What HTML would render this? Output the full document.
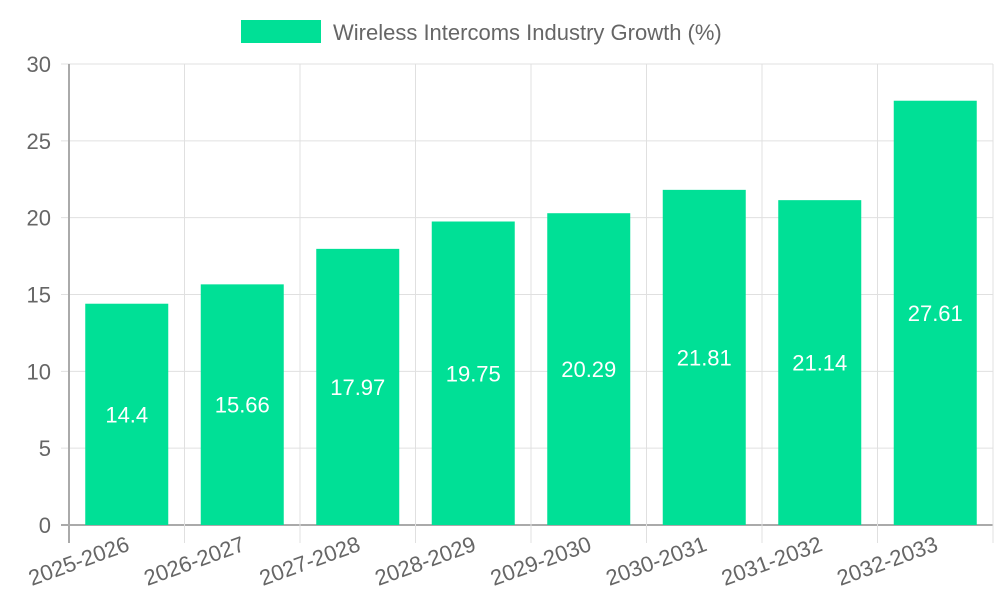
<!DOCTYPE html>
<html><head><meta charset="utf-8"><style>
body{margin:0;background:#fff;}
svg{display:block;font-family:"Liberation Sans",sans-serif;}
</style></head><body>
<svg id="chart" width="1000" height="600">
<g id="legend">
<rect x="241" y="20" width="80" height="23" fill="#00e096"/>
<text x="333" y="40" font-size="22" fill="#666">Wireless Intercoms Industry Growth (%)</text>
</g>
<g id="grid"></g><g id="bars"></g><g id="axes"></g>
</svg>
<script>
const categories=["2025-2026","2026-2027","2027-2028","2028-2029","2029-2030","2030-2031","2031-2032","2032-2033"];
const values=[14.4,15.66,17.97,19.75,20.29,21.81,21.14,27.61];
const yTicks=[0,5,10,15,20,25,30];
const NS="http://www.w3.org/2000/svg";
const x0=69,x1=993,y0=525,y1=64,yMax=30;
const bw=(x1-x0)/categories.length;
const y=v=>y0-(v/yMax)*(y0-y1);
const xc=i=>x0+bw*(i+0.5);
function mk(p,t,a){const e=document.createElementNS(NS,t);for(const k in a)e.setAttribute(k,a[k]);p.appendChild(e);return e;}
const grid=document.getElementById('grid'),bars=document.getElementById('bars'),axes=document.getElementById('axes');
yTicks.forEach(t=>{
  const l=mk(grid,'line',{x1:x0-8,x2:x1,y1:y(t),y2:y(t),stroke:t===0?'#aaa':'#e0e0e0','stroke-width':t===0?2:1});
  
  
  const tx=mk(axes,'text',{x:x0-18,y:y(t)+8,'text-anchor':'end','font-size':22,fill:'#666'});
  tx.textContent=t;
  
  
});
for(let i=0;i<=categories.length;i++){
  const xx=x0+bw*i;
  const l=mk(grid,'line',{x1:xx,x2:xx,y1:y1,y2:y0+18,stroke:i===0?'#aaa':'#e0e0e0','stroke-width':i===0?2:1});
  
  
}
categories.forEach((c,i)=>{
  const b=mk(bars,'rect',{x:xc(i)-41.5,y:y(values[i]),width:83,height:y0-y(values[i]),fill:'#00e096'});
  
  
  const v=mk(bars,'text',{x:xc(i),y:(y(values[i])+y0)/2+8,'text-anchor':'middle','font-size':22,fill:'#fff'});
  v.textContent=values[i];
  
  
  const t=mk(axes,'text',{x:xc(i)+4,y:y0+25,'text-anchor':'end','font-size':22,fill:'#666',transform:`rotate(-20 ${xc(i)+4} ${y0+25})`});
  t.textContent=c;
  
  
});
</script>
</body></html>
